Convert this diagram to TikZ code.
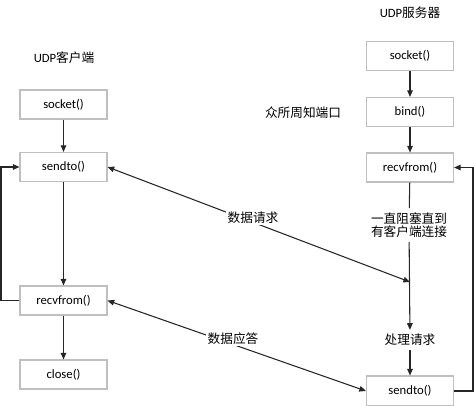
\documentclass[tikz,border=0pt]{standalone}
\usepackage{fontspec}
\setmainfont{Carlito}
\newfontfamily\cjk{Noto Sans CJK SC}
\usetikzlibrary{arrows.meta}
\tikzset{
  fnbox/.style={draw=black!25, line width=0.8pt, minimum width=65.25pt, minimum height=21.75pt, inner sep=0pt, font=\fontsize{9.5}{11}\selectfont},
  lbl/.style={font=\fontsize{9.5}{11}\selectfont\cjk, inner sep=1pt},
  conn/.style={draw=black!85, line width=0.8pt},
  arr/.style={conn, -{Triangle[length=5pt,width=4.2pt]}},
  darr/.style={conn, {Triangle[length=5pt,width=4.2pt]}-{Triangle[length=5pt,width=4.2pt]}},
}
\begin{document}
\begin{tikzpicture}[x=0.75pt, y=-0.75pt]
\useasboundingbox (0,0) rectangle (474,406);
% client
\node[lbl] (clbl) at (64,58) {{\rmfamily UDP}客户端};
\node[fnbox] (csock) at (63.5,104.5) {socket()};
\node[fnbox] (csend) at (63.5,167) {sendto()};
\node[fnbox] (crecv) at (63.5,300.5) {recvfrom()};
\node[fnbox] (cclose) at (63.5,374.5) {close()};
% server
\node[lbl] (slbl) at (410,13) {{\rmfamily UDP}服务器};
\node[fnbox] (ssock) at (410,56) {socket()};
\node[fnbox] (sbind) at (410,112) {bind()};
\node[lbl] (port) at (303,113) {众所周知端口};
\node[fnbox] (srecv) at (410,167.5) {recvfrom()};
\node[lbl, align=center, inner sep=3pt] (wait) at (409,225) {一直阻塞直到\\[-1pt]有客户端连接};
\node[lbl, inner sep=3pt] (proc) at (410,340) {处理请求};
\node[fnbox, minimum height=22.5pt] (ssend) at (410,391) {sendto()};
\coordinate (req) at (410,282);
\coordinate (lt) at (1,167);
\coordinate (lb) at (1,300.5);
\coordinate (rt) at (473,167.5);
\coordinate (rb) at (473,391);
% client flow
\draw[arr] (csock) -- (csend);
\draw[arr] (csend) -- (crecv);
\draw[arr] (crecv) -- (cclose);
\draw[arr] (crecv.west) -- (lb) -- (lt) -- (csend.west);
% server flow
\draw[arr] (ssock) -- (sbind);
\draw[arr] (sbind) -- (srecv);
\draw[conn] (srecv) -- (wait);
\draw[arr] (wait) -- (proc);
\draw[arr] (proc) -- (ssend);
\draw[arr] (ssend.east) -- (rb) -- (rt) -- (srecv.east);
% messages
\draw[darr] (csend.east) -- (req);
\node[lbl, fill=white] (reqlbl) at (253,218) {数据请求};
\draw[darr] (crecv.east) -- (ssend.west);
\node[lbl, fill=white] (replbl) at (233,339) {数据应答};
\end{tikzpicture}
\end{document}
